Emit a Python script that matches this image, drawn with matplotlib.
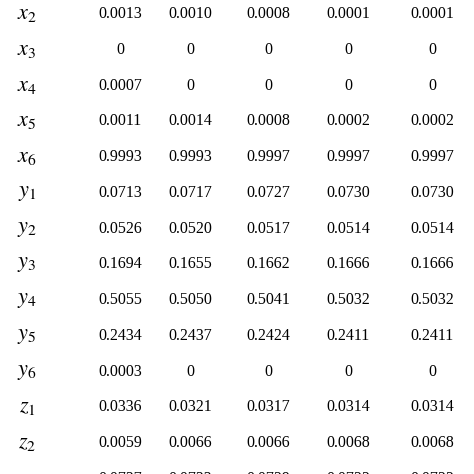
import matplotlib
matplotlib.use("Agg")
import matplotlib.pyplot as plt

plt.rcParams['mathtext.fontset'] = 'stix'

row_labels = ["x_2", "x_3", "x_4", "x_5", "x_6", "y_1", "y_2", "y_3", "y_4", "y_5", "y_6", "z_1", "z_2", "z_3"]
col1 = ["0.0013", "0", "0.0007", "0.0011", "0.9993", "0.0713", "0.0526", "0.1694", "0.5055", "0.2434", "0.0003", "0.0336", "0.0059", "0.0737"]
col2 = ["0.0010", "0", "0", "0.0014", "0.9993", "0.0717", "0.0520", "0.1655", "0.5050", "0.2437", "0", "0.0321", "0.0066", "0.0733"]
col3 = ["0.0008", "0", "0", "0.0008", "0.9997", "0.0727", "0.0517", "0.1662", "0.5041", "0.2424", "0", "0.0317", "0.0066", "0.0729"]
col4 = ["0.0001", "0", "0", "0.0002", "0.9997", "0.0730", "0.0514", "0.1666", "0.5032", "0.2411", "0", "0.0314", "0.0068", "0.0722"]
col5 = ["0.0001", "0", "0", "0.0002", "0.9997", "0.0730", "0.0514", "0.1666", "0.5032", "0.2411", "0", "0.0314", "0.0068", "0.0722"]
columns = [col1, col2, col3, col4, col5]

fig = plt.figure(figsize=(4.74, 4.74), dpi=100)
ax = fig.add_axes([0, 0, 1, 1])
ax.set_xlim(0, 474)
ax.set_ylim(474, 0)
ax.axis('off')

col_x = [120, 190, 268, 348, 432]
row_y0, row_dy = 14, 35.75
for i, lab in enumerate(row_labels):
    y = row_y0 + i * row_dy
    ax.text(27, y, f"${lab}$", fontsize=16, ha='center', va='center')
    for cx, col in zip(col_x, columns):
        ax.text(cx, y, col[i], fontsize=11.5, ha='center', va='center', family='Liberation Serif')

fig.savefig("out.png", dpi=100)
